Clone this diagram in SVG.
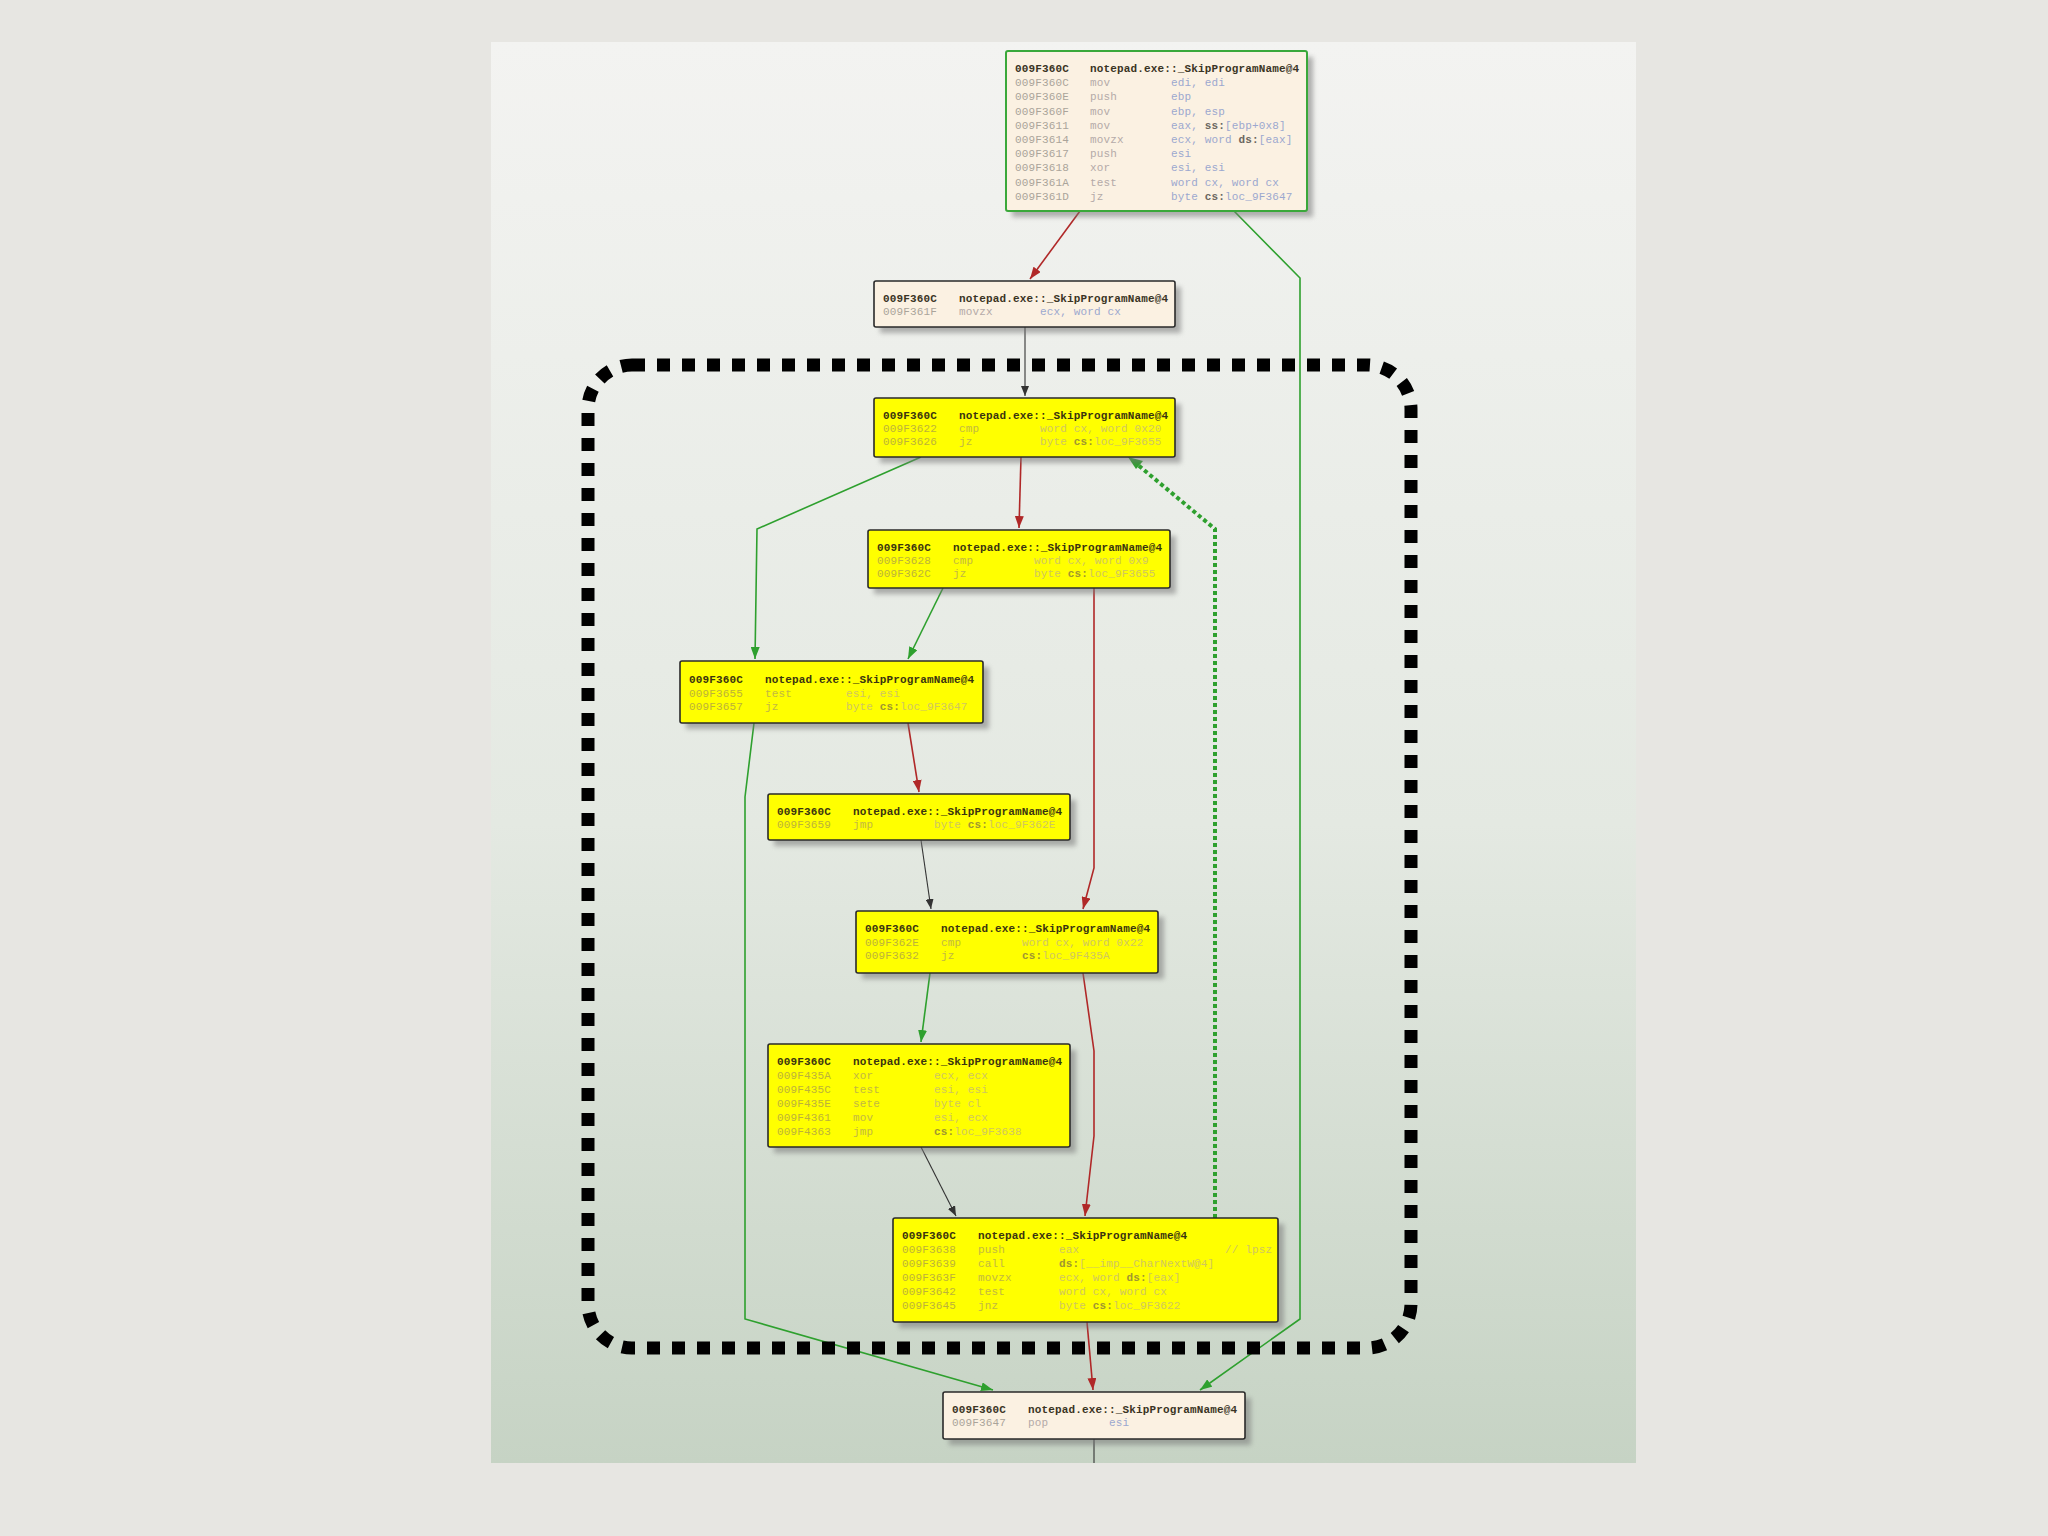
<svg xmlns="http://www.w3.org/2000/svg" width="2048" height="1536" viewBox="0 0 2048 1536">
<defs>
<linearGradient id="bg" x1="0" y1="0" x2="0" y2="1">
<stop offset="0" stop-color="#f3f3f1"/><stop offset="0.55" stop-color="#e4e9e2"/><stop offset="1" stop-color="#c6d3c4"/>
</linearGradient>
<filter id="sh" x="-10%" y="-20%" width="130%" height="160%"><feGaussianBlur stdDeviation="2.5"/></filter>
<marker id="ar" viewBox="0 0 10 10" refX="10" refY="5" markerWidth="12" markerHeight="9" markerUnits="userSpaceOnUse" orient="auto" preserveAspectRatio="none"><path d="M0,0 L10,5 L0,10 z" fill="#b02828"/></marker>
<marker id="ag" viewBox="0 0 10 10" refX="10" refY="5" markerWidth="12" markerHeight="9" markerUnits="userSpaceOnUse" orient="auto" preserveAspectRatio="none"><path d="M0,0 L10,5 L0,10 z" fill="#2ea02e"/></marker>
<marker id="ak" viewBox="0 0 10 10" refX="10" refY="5" markerWidth="10" markerHeight="8" markerUnits="userSpaceOnUse" orient="auto" preserveAspectRatio="none"><path d="M0,0 L10,5 L0,10 z" fill="#333"/></marker>
</defs>
<style>
.m{font-family:"Liberation Mono","DejaVu Sans Mono",monospace;font-size:11px;letter-spacing:0.15px}
.h{font-weight:bold;fill:#3a3424}
.cr .a{fill:#aaa49a}.cr .i{fill:#b4aaa8}.cr .o{fill:#9ba8cf}.cr .d{fill:#6a6660;font-weight:bold}
.ye .a{fill:#bcb23a}.ye .i{fill:#c2b842}.ye .o{fill:#cfc660}.ye .d{fill:#a09630;font-weight:bold}
.ye .h{fill:#3a3410}
.sh{fill:#777;opacity:0.55;filter:url(#sh)}
.bc{fill:#fbf1e2;stroke:#2a2a2a;stroke-width:1.6}
.by{fill:#ffff00;stroke:#2a2a2a;stroke-width:1.6}
.er{fill:none;stroke:#b02828;stroke-width:1.6;marker-end:url(#ar)}
.eg{fill:none;stroke:#2ea02e;stroke-width:1.6;marker-end:url(#ag)}
.ek{fill:none;stroke:#333;stroke-width:1.1;marker-end:url(#ak)}
</style>
<rect x="0" y="0" width="2048" height="1536" fill="#e7e6e2"/>
<rect x="491" y="42" width="1145" height="1421" fill="url(#bg)"/>

<g id="connectors">
<path class="er" d="M1080,211 L1030,279"/>
<path class="eg" d="M1234,211 L1300,278 L1300,1319 L1200,1390"/>
<path class="ek" d="M1025,327 L1025,396"/>
<path class="er" d="M1021,457 L1019,528"/>
<path class="eg" d="M921,457 L757,529 L755,659"/>
<path class="eg" d="M943,588 L908,659"/>
<path class="er" d="M1094,588 L1094,868 L1083,909"/>
<path class="er" d="M908,723 L919,792"/>
<path class="eg" d="M754,723 L745,797 L745,1319 L993,1390"/>
<path class="ek" d="M921,840 L931,909"/>
<path class="eg" d="M930,973 L921,1042"/>
<path class="er" d="M1083,973 L1094,1051 L1094,1136 L1085,1216"/>
<path class="ek" d="M921,1147 L956,1216"/>
<path fill="none" stroke="#2ea02e" stroke-width="4" stroke-dasharray="4 3" d="M1215,1218 L1215,529 L1138,465"/>
<path d="M1128,457 L1143,461 L1136,469 z" fill="#2ea02e"/>
<path class="er" d="M1087,1322 L1093,1390"/>
<path fill="none" stroke="#333" stroke-width="1.1" d="M1094,1439 L1094,1463"/>
</g>

<rect id="loop" x="588" y="365" width="823" height="983" rx="44" fill="none" stroke="#000" stroke-width="13" stroke-dasharray="13 12"/>

<g id="n1" class="cr m">
<rect class="sh" x="1012" y="57" width="301" height="160"/>
<rect x="1006" y="51" width="301" height="160" rx="2" fill="#fbf1e2" stroke="#3aa83a" stroke-width="2"/>
<text x="1015" y="72" class="h">009F360C</text><text x="1090" y="72" class="h">notepad.exe::_SkipProgramName@4</text>
<text x="1015" y="86"><tspan class="a">009F360C</tspan><tspan class="i" x="1090">mov</tspan><tspan class="o" x="1171">edi, edi</tspan></text>
<text x="1015" y="100"><tspan class="a">009F360E</tspan><tspan class="i" x="1090">push</tspan><tspan class="o" x="1171">ebp</tspan></text>
<text x="1015" y="115"><tspan class="a">009F360F</tspan><tspan class="i" x="1090">mov</tspan><tspan class="o" x="1171">ebp, esp</tspan></text>
<text x="1015" y="129"><tspan class="a">009F3611</tspan><tspan class="i" x="1090">mov</tspan><tspan class="o" x="1171">eax, </tspan><tspan class="d">ss:</tspan><tspan class="o">[ebp+0x8]</tspan></text>
<text x="1015" y="143"><tspan class="a">009F3614</tspan><tspan class="i" x="1090">movzx</tspan><tspan class="o" x="1171">ecx, word </tspan><tspan class="d">ds:</tspan><tspan class="o">[eax]</tspan></text>
<text x="1015" y="157"><tspan class="a">009F3617</tspan><tspan class="i" x="1090">push</tspan><tspan class="o" x="1171">esi</tspan></text>
<text x="1015" y="171"><tspan class="a">009F3618</tspan><tspan class="i" x="1090">xor</tspan><tspan class="o" x="1171">esi, esi</tspan></text>
<text x="1015" y="186"><tspan class="a">009F361A</tspan><tspan class="i" x="1090">test</tspan><tspan class="o" x="1171">word cx, word cx</tspan></text>
<text x="1015" y="200"><tspan class="a">009F361D</tspan><tspan class="i" x="1090">jz</tspan><tspan class="o" x="1171">byte </tspan><tspan class="d">cs:</tspan><tspan class="o">loc_9F3647</tspan></text>
</g>

<g id="n2" class="cr m">
<rect class="sh" x="880" y="287" width="301" height="46"/>
<rect class="bc" x="874" y="281" width="301" height="46" rx="2"/>
<text x="883" y="302" class="h">009F360C</text><text x="959" y="302" class="h">notepad.exe::_SkipProgramName@4</text>
<text x="883" y="315"><tspan class="a">009F361F</tspan><tspan class="i" x="959">movzx</tspan><tspan class="o" x="1040">ecx, word cx</tspan></text>
</g>

<g id="n3" class="ye m">
<rect class="sh" x="880" y="404" width="301" height="59"/>
<rect class="by" x="874" y="398" width="301" height="59" rx="2"/>
<text x="883" y="419" class="h">009F360C</text><text x="959" y="419" class="h">notepad.exe::_SkipProgramName@4</text>
<text x="883" y="432"><tspan class="a">009F3622</tspan><tspan class="i" x="959">cmp</tspan><tspan class="o" x="1040">word cx, word 0x20</tspan></text>
<text x="883" y="445"><tspan class="a">009F3626</tspan><tspan class="i" x="959">jz</tspan><tspan class="o" x="1040">byte </tspan><tspan class="d">cs:</tspan><tspan class="o">loc_9F3655</tspan></text>
</g>

<g id="n4" class="ye m">
<rect class="sh" x="874" y="536" width="302" height="58"/>
<rect class="by" x="868" y="530" width="302" height="58" rx="2"/>
<text x="877" y="551" class="h">009F360C</text><text x="953" y="551" class="h">notepad.exe::_SkipProgramName@4</text>
<text x="877" y="564"><tspan class="a">009F3628</tspan><tspan class="i" x="953">cmp</tspan><tspan class="o" x="1034">word cx, word 0x9</tspan></text>
<text x="877" y="577"><tspan class="a">009F362C</tspan><tspan class="i" x="953">jz</tspan><tspan class="o" x="1034">byte </tspan><tspan class="d">cs:</tspan><tspan class="o">loc_9F3655</tspan></text>
</g>

<g id="n5" class="ye m">
<rect class="sh" x="686" y="667" width="303" height="62"/>
<rect class="by" x="680" y="661" width="303" height="62" rx="2"/>
<text x="689" y="683" class="h">009F360C</text><text x="765" y="683" class="h">notepad.exe::_SkipProgramName@4</text>
<text x="689" y="697"><tspan class="a">009F3655</tspan><tspan class="i" x="765">test</tspan><tspan class="o" x="846">esi, esi</tspan></text>
<text x="689" y="710"><tspan class="a">009F3657</tspan><tspan class="i" x="765">jz</tspan><tspan class="o" x="846">byte </tspan><tspan class="d">cs:</tspan><tspan class="o">loc_9F3647</tspan></text>
</g>

<g id="n6" class="ye m">
<rect class="sh" x="774" y="800" width="302" height="46"/>
<rect class="by" x="768" y="794" width="302" height="46" rx="2"/>
<text x="777" y="815" class="h">009F360C</text><text x="853" y="815" class="h">notepad.exe::_SkipProgramName@4</text>
<text x="777" y="828"><tspan class="a">009F3659</tspan><tspan class="i" x="853">jmp</tspan><tspan class="o" x="934">byte </tspan><tspan class="d">cs:</tspan><tspan class="o">loc_9F362E</tspan></text>
</g>

<g id="n7" class="ye m">
<rect class="sh" x="862" y="917" width="302" height="62"/>
<rect class="by" x="856" y="911" width="302" height="62" rx="2"/>
<text x="865" y="932" class="h">009F360C</text><text x="941" y="932" class="h">notepad.exe::_SkipProgramName@4</text>
<text x="865" y="946"><tspan class="a">009F362E</tspan><tspan class="i" x="941">cmp</tspan><tspan class="o" x="1022">word cx, word 0x22</tspan></text>
<text x="865" y="959"><tspan class="a">009F3632</tspan><tspan class="i" x="941">jz</tspan><tspan class="d" x="1022">cs:</tspan><tspan class="o">loc_9F435A</tspan></text>
</g>

<g id="n8" class="ye m">
<rect class="sh" x="774" y="1050" width="302" height="103"/>
<rect class="by" x="768" y="1044" width="302" height="103" rx="2"/>
<text x="777" y="1065" class="h">009F360C</text><text x="853" y="1065" class="h">notepad.exe::_SkipProgramName@4</text>
<text x="777" y="1079"><tspan class="a">009F435A</tspan><tspan class="i" x="853">xor</tspan><tspan class="o" x="934">ecx, ecx</tspan></text>
<text x="777" y="1093"><tspan class="a">009F435C</tspan><tspan class="i" x="853">test</tspan><tspan class="o" x="934">esi, esi</tspan></text>
<text x="777" y="1107"><tspan class="a">009F435E</tspan><tspan class="i" x="853">sete</tspan><tspan class="o" x="934">byte cl</tspan></text>
<text x="777" y="1121"><tspan class="a">009F4361</tspan><tspan class="i" x="853">mov</tspan><tspan class="o" x="934">esi, ecx</tspan></text>
<text x="777" y="1135"><tspan class="a">009F4363</tspan><tspan class="i" x="853">jmp</tspan><tspan class="d" x="934">cs:</tspan><tspan class="o">loc_9F3638</tspan></text>
</g>

<g id="n9" class="ye m">
<rect class="sh" x="899" y="1224" width="385" height="104"/>
<rect class="by" x="893" y="1218" width="385" height="104" rx="2"/>
<text x="902" y="1239" class="h">009F360C</text><text x="978" y="1239" class="h">notepad.exe::_SkipProgramName@4</text>
<text x="902" y="1253"><tspan class="a">009F3638</tspan><tspan class="i" x="978">push</tspan><tspan class="o" x="1059">eax</tspan><tspan class="o" x="1225">// lpsz</tspan></text>
<text x="902" y="1267"><tspan class="a">009F3639</tspan><tspan class="i" x="978">call</tspan><tspan class="d" x="1059">ds:</tspan><tspan class="o">[__imp__CharNextW@4]</tspan></text>
<text x="902" y="1281"><tspan class="a">009F363F</tspan><tspan class="i" x="978">movzx</tspan><tspan class="o" x="1059">ecx, word </tspan><tspan class="d">ds:</tspan><tspan class="o">[eax]</tspan></text>
<text x="902" y="1295"><tspan class="a">009F3642</tspan><tspan class="i" x="978">test</tspan><tspan class="o" x="1059">word cx, word cx</tspan></text>
<text x="902" y="1309"><tspan class="a">009F3645</tspan><tspan class="i" x="978">jnz</tspan><tspan class="o" x="1059">byte </tspan><tspan class="d">cs:</tspan><tspan class="o">loc_9F3622</tspan></text>
</g>

<g id="n10" class="cr m">
<rect class="sh" x="949" y="1398" width="302" height="47"/>
<rect class="bc" x="943" y="1392" width="302" height="47" rx="2"/>
<text x="952" y="1413" class="h">009F360C</text><text x="1028" y="1413" class="h">notepad.exe::_SkipProgramName@4</text>
<text x="952" y="1426"><tspan class="a">009F3647</tspan><tspan class="i" x="1028">pop</tspan><tspan class="o" x="1109">esi</tspan></text>
</g>
</svg>
